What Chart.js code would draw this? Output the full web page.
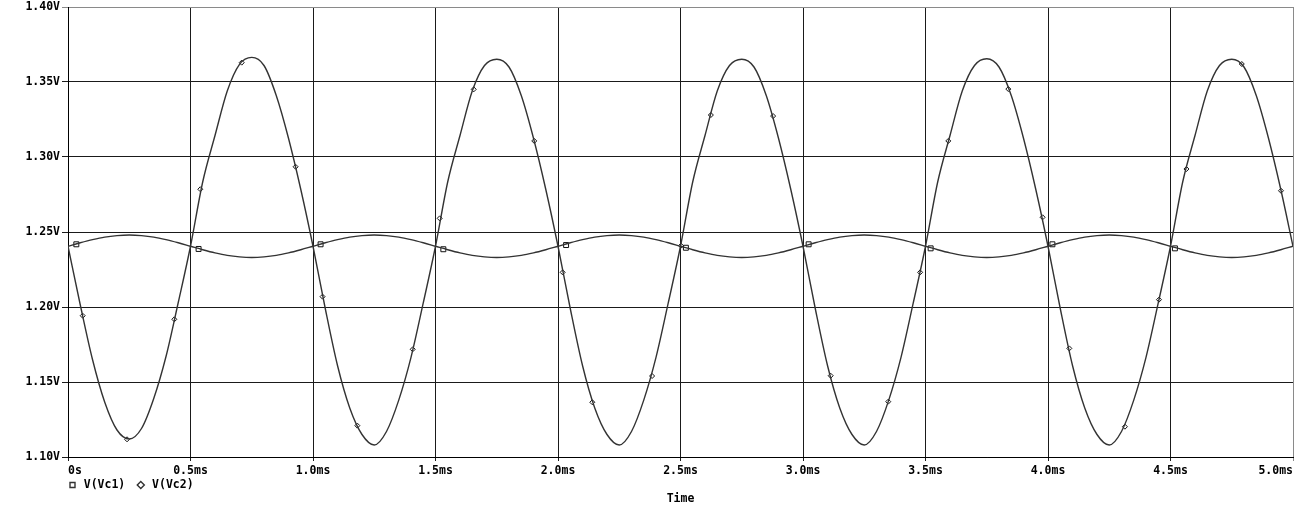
<!DOCTYPE html>
<html>
<head>
<meta charset="utf-8">
<script src="https://cdn.jsdelivr.net/npm/chart.js@4.4.1/dist/chart.umd.min.js"></script>
<style>
  html, body { margin: 0; padding: 0; background: #ffffff; }
  #c { display: block; }
</style>
</head>
<body>
<canvas id="c" width="1300" height="507"></canvas>
<script>
// ---- data ----
const seriesNames = ['V(Vc1)', 'V(Vc2)'];
const xTickValues = [0, 0.5, 1.0, 1.5, 2.0, 2.5, 3.0, 3.5, 4.0, 4.5, 5.0];
const xTickLabels = ['0s', '0.5ms', '1.0ms', '1.5ms', '2.0ms', '2.5ms', '3.0ms', '3.5ms', '4.0ms', '4.5ms', '5.0ms'];
const yTickValues = [1.10, 1.15, 1.20, 1.25, 1.30, 1.35, 1.40];
const yTickLabels = ['1.10V', '1.15V', '1.20V', '1.25V', '1.30V', '1.35V', '1.40V'];
const xTitle = 'Time';

// time in ms
const timeMs = [
  0.00, 0.05, 0.10, 0.15, 0.20, 0.25, 0.30, 0.35, 0.40, 0.45,
  0.50, 0.55, 0.60, 0.65, 0.70, 0.75, 0.80, 0.85, 0.90, 0.95,
  1.00, 1.05, 1.10, 1.15, 1.20, 1.25, 1.30, 1.35, 1.40, 1.45,
  1.50, 1.55, 1.60, 1.65, 1.70, 1.75, 1.80, 1.85, 1.90, 1.95,
  2.00, 2.05, 2.10, 2.15, 2.20, 2.25, 2.30, 2.35, 2.40, 2.45,
  2.50, 2.55, 2.60, 2.65, 2.70, 2.75, 2.80, 2.85, 2.90, 2.95,
  3.00, 3.05, 3.10, 3.15, 3.20, 3.25, 3.30, 3.35, 3.40, 3.45,
  3.50, 3.55, 3.60, 3.65, 3.70, 3.75, 3.80, 3.85, 3.90, 3.95,
  4.00, 4.05, 4.10, 4.15, 4.20, 4.25, 4.30, 4.35, 4.40, 4.45,
  4.50, 4.55, 4.60, 4.65, 4.70, 4.75, 4.80, 4.85, 4.90, 4.95,
  5.00
];

const vc1 = [
  1.2405, 1.2428, 1.2449, 1.2466, 1.2476, 1.2480, 1.2476, 1.2466, 1.2449, 1.2428,
  1.2405, 1.2382, 1.2361, 1.2344, 1.2334, 1.2330, 1.2334, 1.2344, 1.2361, 1.2382,
  1.2405, 1.2428, 1.2449, 1.2466, 1.2476, 1.2480, 1.2476, 1.2466, 1.2449, 1.2428,
  1.2405, 1.2382, 1.2361, 1.2344, 1.2334, 1.2330, 1.2334, 1.2344, 1.2361, 1.2382,
  1.2405, 1.2428, 1.2449, 1.2466, 1.2476, 1.2480, 1.2476, 1.2466, 1.2449, 1.2428,
  1.2405, 1.2382, 1.2361, 1.2344, 1.2334, 1.2330, 1.2334, 1.2344, 1.2361, 1.2382,
  1.2405, 1.2428, 1.2449, 1.2466, 1.2476, 1.2480, 1.2476, 1.2466, 1.2449, 1.2428,
  1.2405, 1.2382, 1.2361, 1.2344, 1.2334, 1.2330, 1.2334, 1.2344, 1.2361, 1.2382,
  1.2405, 1.2428, 1.2449, 1.2466, 1.2476, 1.2480, 1.2476, 1.2466, 1.2449, 1.2428,
  1.2405, 1.2382, 1.2361, 1.2344, 1.2334, 1.2330, 1.2334, 1.2344, 1.2361, 1.2382,
  1.2405
];

const vc2 = [
  1.2405, 1.2015, 1.1650, 1.1365, 1.1180, 1.1120, 1.1190, 1.1390, 1.1670, 1.2030,
  1.2405, 1.2835, 1.3143, 1.3440, 1.3618, 1.3664, 1.3610, 1.3410, 1.3125, 1.2785,
  1.2405, 1.1990, 1.1610, 1.1327, 1.1150, 1.1080, 1.1170, 1.1379, 1.1664, 1.2027,
  1.2405, 1.2835, 1.3143, 1.3440, 1.3610, 1.3652, 1.3600, 1.3410, 1.3125, 1.2785,
  1.2405, 1.1990, 1.1610, 1.1327, 1.1150, 1.1080, 1.1170, 1.1379, 1.1664, 1.2027,
  1.2405, 1.2835, 1.3143, 1.3440, 1.3610, 1.3652, 1.3600, 1.3410, 1.3125, 1.2785,
  1.2405, 1.1990, 1.1610, 1.1327, 1.1150, 1.1080, 1.1170, 1.1379, 1.1664, 1.2027,
  1.2405, 1.2835, 1.3143, 1.3440, 1.3610, 1.3655, 1.3600, 1.3410, 1.3125, 1.2785,
  1.2405, 1.1990, 1.1610, 1.1327, 1.1150, 1.1080, 1.1170, 1.1379, 1.1664, 1.2027,
  1.2405, 1.2835, 1.3143, 1.3440, 1.3610, 1.3652, 1.3600, 1.3410, 1.3125, 1.2785,
  1.2405
];

// marker symbols placed along the traces (time ms, volts)
const vc1MarkerT = [0.034, 0.533, 1.031, 1.532, 2.033, 2.522, 3.023, 3.521, 4.018, 4.518];
const vc1MarkerV = [1.2418, 1.2387, 1.2418, 1.2385, 1.2413, 1.2395, 1.2418, 1.2391, 1.2418, 1.2391];
const vc2MarkerT = [0.060, 0.241, 0.434, 0.540, 0.709, 0.929, 1.039, 1.181, 1.407, 1.517,
                    1.656, 1.903, 2.019, 2.140, 2.384, 2.502, 2.624, 2.878, 3.113, 3.348,
                    3.478, 3.593, 3.838, 3.978, 4.087, 4.314, 4.453, 4.565, 4.791, 4.951];
const vc2MarkerV = [1.1942, 1.1118, 1.1918, 1.2785, 1.3629, 1.2935, 1.2069, 1.1209, 1.1718, 1.2591,
                    1.3451, 1.3107, 1.2231, 1.1365, 1.1540, 1.2409, 1.3280, 1.3273, 1.1542, 1.1369,
                    1.2231, 1.3107, 1.3453, 1.2598, 1.1724, 1.1202, 1.2049, 1.2920, 1.3620, 1.2775];

// ---- chart ----
const FONT = 'DejaVu Sans Mono';
Chart.defaults.font.family = FONT;
Chart.defaults.font.size = 11.5;
Chart.defaults.font.weight = 'bold';
Chart.defaults.color = '#000';

const traceColor = '#333333';
const gridColor = '#1a1a1a';
const edgeColor = '#8a8a8a';

const pairs = (xs, ys) => xs.map((x, i) => ({ x: x, y: ys[i] }));

const legendPlacer = {
  id: 'legendPlacer',
  afterLayout(chart) {
    const lg = chart.legend;
    if (!lg) return;
    lg.left = chart.chartArea.left - 11;
    lg.top = chart.scales.x.bottom - 8.75;
  }
};

new Chart(document.getElementById('c'), {
  type: 'line',
  data: {
    datasets: [
      {
        label: seriesNames[0],
        data: pairs(timeMs, vc1),
        borderColor: traceColor,
        backgroundColor: '#ffffff',
        borderWidth: 1.4,
        pointRadius: 0,
        pointStyle: 'rect',
        cubicInterpolationMode: 'monotone'
      },
      {
        label: seriesNames[1],
        data: pairs(timeMs, vc2),
        borderColor: traceColor,
        backgroundColor: '#ffffff',
        borderWidth: 1.4,
        pointRadius: 0,
        pointStyle: 'rectRot',
        cubicInterpolationMode: 'monotone'
      },
      {
        label: seriesNames[0] + ' markers',
        data: pairs(vc1MarkerT, vc1MarkerV),
        showLine: false,
        pointStyle: 'rect',
        pointRadius: 3.5,
        pointBorderWidth: 1,
        borderColor: '#111',
        backgroundColor: 'rgba(255,255,255,0)'
      },
      {
        label: seriesNames[1] + ' markers',
        data: pairs(vc2MarkerT, vc2MarkerV),
        showLine: false,
        pointStyle: 'rectRot',
        pointRadius: 2.5,
        pointBorderWidth: 1,
        borderColor: '#111',
        backgroundColor: 'rgba(255,255,255,0)'
      }
    ]
  },
  options: {
    responsive: false,
    animation: false,
    devicePixelRatio: 1,
    layout: { padding: { left: 0, right: 7, top: 7, bottom: 0 } },
    plugins: {
      tooltip: { enabled: false },
      legend: {
        display: true,
        position: 'bottom',
        align: 'start',
        fullSize: false,
        maxHeight: 14,
        labels: {
          usePointStyle: true,
          boxWidth: 11,
          boxHeight: 5,
          padding: 10,
          color: '#000',
          font: { family: FONT, size: 11.5, weight: 'bold' },
          filter: (item) => item.datasetIndex < 2
        }
      },
      title: {
        display: true,
        text: xTitle,
        position: 'bottom',
        fullSize: false,
        color: '#000',
        font: { family: FONT, size: 11.5, weight: 'bold', lineHeight: 1.2 },
        padding: { top: 0, bottom: 1.2 }
      }
    },
    scales: {
      x: {
        type: 'linear',
        min: 0,
        max: 5,
        afterBuildTicks: (s) => { s.ticks = xTickValues.map(v => ({ value: v })); },
        afterFit: (s) => { s.height = 21; s.paddingLeft = 0; s.paddingRight = 0; },
        ticks: {
          autoSkip: false,
          maxRotation: 0,
          minRotation: 0,
          align: 'inner',
          padding: 3,
          color: '#000',
          font: { family: FONT, size: 11.5, weight: 'bold' },
          callback: (v, i) => xTickLabels[i]
        },
        grid: {
          color: (c) => (c.tick && c.tick.value === 5 ? edgeColor : gridColor),
          tickColor: (c) => (c.tick && c.tick.value === 5 ? edgeColor : gridColor),
          tickLength: 4,
          lineWidth: 1
        },
        border: { display: true, color: '#000', width: 1 }
      },
      y: {
        type: 'linear',
        min: 1.10,
        max: 1.40,
        afterBuildTicks: (s) => { s.ticks = yTickValues.map(v => ({ value: v })); },
        afterFit: (s) => { s.width = 68; s.paddingTop = 0; s.paddingBottom = 0; },
        ticks: {
          autoSkip: false,
          padding: 2,
          color: '#000',
          font: { family: FONT, size: 11.5, weight: 'bold' },
          callback: (v, i) => yTickLabels[i]
        },
        grid: {
          color: (c) => (c.tick && Math.abs(c.tick.value - 1.40) < 1e-9 ? edgeColor : gridColor),
          tickColor: (c) => (c.tick && Math.abs(c.tick.value - 1.40) < 1e-9 ? edgeColor : gridColor),
          tickLength: 6,
          lineWidth: 1
        },
        border: { display: true, color: '#000', width: 1 }
      }
    }
  },
  plugins: [legendPlacer]
});
</script>
</body>
</html>
